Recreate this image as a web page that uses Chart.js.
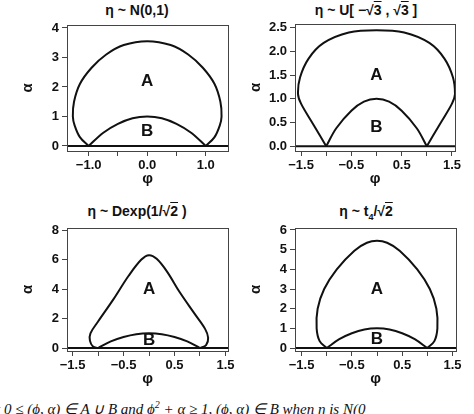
<!DOCTYPE html>
<html><head><meta charset="utf-8">
<script src="https://cdn.jsdelivr.net/npm/chart.js@4"></script>
<style>
body{margin:0;background:#fff;width:474px;height:414px;overflow:hidden;position:relative;font-family:"Liberation Sans",Arial,sans-serif}
canvas{position:absolute}
.t{position:absolute;font-size:14px;font-weight:bold;text-align:center;width:237px;color:#111}
.cap{position:absolute;left:-4px;top:399px;white-space:nowrap;font-family:"Liberation Serif",serif;font-style:italic;font-size:15px;color:#111}
</style></head><body>
<div class="t" style="left:57px;top:2px;width:180px;left:57px;margin-left:-10px">η ~ N(0,1)</div>
<div class="t" style="left:276px;top:2px;width:180px">η ~ U[ −√<span style="text-decoration:overline">3</span> , √<span style="text-decoration:overline">3</span> ]</div>
<div class="t" style="left:57px;top:203px;width:180px;margin-left:-10px">η ~ Dexp(1/√<span style="text-decoration:overline">2</span> )</div>
<div class="t" style="left:276px;top:203px;width:180px">η ~ t<sub style="font-size:9px">4</sub>/√<span style="text-decoration:overline">2</span></div>
<div class="cap">t 0 ≤ (ϕ, α) ∈ A ∪ B and ϕ<sup style="font-size:10px">2</sup> + α ≥ 1, (ϕ, α) ∈ B when η is N(0</div>
<canvas id="c1" style="left:0;top:0" width="237" height="195"></canvas>
<canvas id="c2" style="left:237px;top:0" width="237" height="195"></canvas>
<canvas id="c3" style="left:0;top:195px" width="237" height="195"></canvas>
<canvas id="c4" style="left:237px;top:195px" width="237" height="195"></canvas>
<script>
// Panel 1: normal
const outer1 = [[-1,0],[-1.15,0.3],[-1.24,0.7],[-1.27,1.0],[-1.25,1.5],[-1.15,2.1],[-0.95,2.65],[-0.7,3.1],[-0.4,3.42],[0,3.55],[0.4,3.42],[0.7,3.1],[0.95,2.65],[1.15,2.1],[1.25,1.5],[1.27,1.0],[1.24,0.7],[1.15,0.3],[1,0]];
const inner1 = [[-1,0],[-0.75,0.45],[-0.5,0.75],[-0.25,0.94],[0,1],[0.25,0.94],[0.5,0.75],[0.75,0.45],[1,0]];
// Panel 2: uniform
const outer2 = [[-1,0],[-1.25,0.45],[-1.5,0.9],[-1.56,1.1],[-1.52,1.45],[-1.35,1.85],[-1.05,2.18],[-0.55,2.4],[0,2.45],[0.55,2.4],[1.05,2.18],[1.35,1.85],[1.52,1.45],[1.56,1.1],[1.5,0.9],[1.25,0.45],[1,0]];
const inner2 = [[-1,0],[-0.8,0.38],[-0.5,0.75],[-0.25,0.94],[0,1],[0.25,0.94],[0.5,0.75],[0.8,0.38],[1,0]];
// Panel 3: double exponential
const outer3 = [[-1,0],[-1.1,0.1],[-1.16,0.5],[-1.15,1.0],[-1.0,1.8],[-0.7,3.3],[-0.4,4.9],[-0.15,6.0],[0,6.3],[0.15,6.05],[0.35,5.2],[0.6,3.8],[0.9,2.3],[1.1,1.3],[1.16,0.7],[1.12,0.2],[1,0]];
const inner3 = [[-1,0],[-0.75,0.45],[-0.5,0.75],[-0.25,0.94],[0,1],[0.25,0.94],[0.5,0.75],[0.75,0.45],[1,0]];
// Panel 4: t4
const outer4 = [[-1,0],[-1.14,0.35],[-1.2,1.0],[-1.18,2.0],[-1.05,3.0],[-0.8,4.0],[-0.45,4.95],[-0.2,5.35],[0,5.45],[0.2,5.35],[0.45,4.95],[0.8,4.0],[1.05,3.0],[1.18,2.0],[1.2,1.0],[1.14,0.35],[1,0]];
const inner4 = [[-1,0],[-0.75,0.45],[-0.5,0.75],[-0.25,0.94],[0,1],[0.25,0.94],[0.5,0.75],[0.75,0.45],[1,0]];

const xTicks1 = [-1,-0.5,0,0.5,1], xLabels1 = ["−1.0","","0.0","","1.0"];
const xTicks = [-1.5,-1,-0.5,0,0.5,1,1.5], xLabels = ["−1.5","","−0.5","","0.5","","1.5"];
const yTicks1 = [0,1,2,3,4], yTicks2 = [0,0.5,1,1.5,2,2.5], yTicks3 = [0,2,4,6,8], yTicks4 = [0,1,2,3,4,5,6];
const yLabels2 = ["0.0","0.5","1.0","1.5","2.0","2.5"];
const labelPos1 = [[0,2.2],[0,0.5]], labelPos2 = [[0,1.5],[0,0.4]], labelPos3 = [[0,4],[0,0.5]], labelPos4 = [[0,3],[0,0.45]];

const boxPlugin = {id:'box',afterDraw(c,a,o){const ca=c.chartArea,ctx=c.ctx;ctx.save();ctx.strokeStyle='#444';ctx.lineWidth=1;ctx.strokeRect(ca.left+0.5,ca.top+0.5,ca.right-ca.left,ca.bottom-ca.top);
 ctx.fillStyle='#111';ctx.font='bold 17px "Liberation Sans", Arial';ctx.textAlign='center';ctx.textBaseline='middle';
 const lp=c.options.plugins.box.labels;['A','B'].forEach((t,i)=>ctx.fillText(t,c.scales.x.getPixelForValue(lp[i][0]),c.scales.y.getPixelForValue(lp[i][1])));
 ctx.font='bold 15px "Liberation Sans", Arial';
 ctx.fillText('φ',(ca.left+ca.right)/2,ca.bottom+28);
 ctx.translate(ca.left-39,(ca.top+ca.bottom)/2);ctx.rotate(-Math.PI/2);ctx.fillText('α',0,0);
 ctx.restore();}};

function mk(id,outer,inner,box,xr,yr,xt,xl,yt,yl,lp){
 const toPts=a=>a.map(p=>({x:p[0],y:p[1]}));
 const font={family:'"Liberation Sans", Arial',size:13,weight:'bold'};
 new Chart(document.getElementById(id),{type:'scatter',
  data:{datasets:[
   {data:toPts(outer),showLine:true,borderColor:'#111',borderWidth:2,pointRadius:0,tension:0.35},
   {data:toPts(inner),showLine:true,borderColor:'#111',borderWidth:2,pointRadius:0,tension:0.35},
   {data:[{x:-3,y:0},{x:3,y:0}],showLine:true,borderColor:'#111',borderWidth:2,pointRadius:0}]},
  options:{responsive:false,animation:false,
   layout:{padding:{top:box.top,right:237-box.right,left:0,bottom:0}},
   plugins:{legend:{display:false},tooltip:{enabled:false},box:{labels:lp}},
   scales:{
    x:{type:'linear',min:xr[0],max:xr[1],border:{display:false},
     grid:{drawOnChartArea:false,tickLength:5,color:'#444'},
     afterBuildTicks:s=>{s.ticks=xt.map(v=>({value:v}));},
     afterFit:s=>{s.height=195-box.bottom;},
     ticks:{font,color:'#111',padding:2,maxRotation:0,autoSkip:false,callback:(v,i)=>xl[i]}},
    y:{type:'linear',min:yr[0],max:yr[1],border:{display:false},
     grid:{drawOnChartArea:false,tickLength:5,color:'#444'},
     afterBuildTicks:s=>{s.ticks=yt.map(v=>({value:v}));},
     afterFit:s=>{s.width=box.left;},
     ticks:{font,color:'#111',padding:3,autoSkip:false,callback:(v,i)=>yl?yl[i]:String(yt[i])}}}},
  plugins:[boxPlugin]});
}
mk('c1',outer1,inner1,{left:67,right:228,top:25,bottom:151},[-1.37,1.38],[-0.17,4.1],xTicks1,xLabels1,yTicks1,null,labelPos1);
mk('c2',outer2,inner2,{left:58,right:218,top:24,bottom:151},[-1.62,1.56],[-0.1,2.58],xTicks,xLabels,yTicks2,yLabels2,labelPos2);
mk('c3',outer3,inner3,{left:67,right:228,top:33,bottom:156},[-1.61,1.55],[-0.2,8.14],xTicks,xLabels,yTicks3,null,labelPos3);
mk('c4',outer4,inner4,{left:58,right:219,top:33,bottom:156},[-1.63,1.57],[-0.15,6.1],xTicks,xLabels,yTicks4,null,labelPos4);
</script></body></html>
